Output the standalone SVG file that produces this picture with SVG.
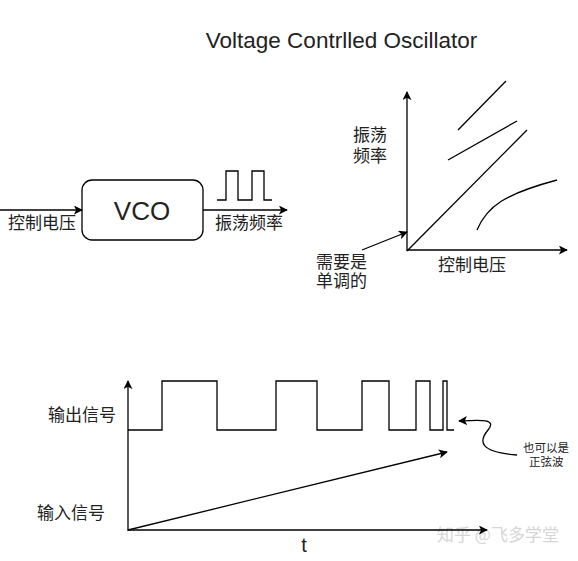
<svg xmlns="http://www.w3.org/2000/svg" width="578" height="561" viewBox="0 0 578 561">
<defs>
<marker id="ah" viewBox="0 0 10 10" refX="9" refY="5" markerWidth="9" markerHeight="9" markerUnits="userSpaceOnUse" orient="auto">
<path d="M0,0 L10,5 L0,10 L2.5,5 Z" fill="#000"/>
</marker>
</defs>
<style>
.ln{stroke:#000;stroke-width:1.3;fill:none}
.t{font-family:"Liberation Sans","Noto Sans CJK SC",sans-serif;fill:#222}
.cn{font-size:17px}
</style>
<rect width="578" height="561" fill="#fff"/>
<text class="t" x="341.5" y="48" font-size="22.5" text-anchor="middle">Voltage Contrlled Oscillator</text>

<g id="vco">
<rect x="82" y="180" width="121" height="60" rx="10" ry="10" fill="#fff" stroke="#000" stroke-width="1.3"/>
<text class="t" x="142" y="219.5" font-size="26" text-anchor="middle">VCO</text>
</g>
<g id="pulse">
<path class="ln" d="M217,200 H226 V171 H238 V200 H252 V171 H264 V200 H272"/>
</g>
<g id="labels-top">
<text class="t cn" x="8" y="229">控制电压</text>
<text class="t cn" x="215" y="229">振荡频率</text>
</g>

<g id="graph">
<path class="ln" d="M407,251 L527,130"/>
<path class="ln" d="M448,160 L517,121"/>
<path class="ln" d="M458,130 L506,81"/>
<path class="ln" d="M477,230 C487,206 505,194 557,180"/>
<text class="t cn" x="353" y="141">振荡</text>
<text class="t cn" x="353" y="162">频率</text>
<text class="t cn" x="438" y="271">控制电压</text>
<text class="t cn" x="316" y="268">需要是</text>
<text class="t cn" x="316" y="287">单调的</text>
</g>

<g id="waveform">
<path class="ln" d="M128,430 H162 V381 H217 V430 H276 V381 H317 V430 H362 V381 H389 V430 H416 V381 H430 V430 H443 V381 H447 V430 H454"/>
<text class="t cn" x="48" y="421">输出信号</text>
<text class="t cn" x="37" y="519">输入信号</text>
<text class="t" x="304" y="552" font-size="20" text-anchor="middle">t</text>
<text class="t" x="523" y="452" font-size="11.5">也可以是</text>
<text class="t" x="529" y="466" font-size="11.5">正弦波</text>
<text x="437" y="541" font-family="'Noto Sans CJK SC',sans-serif" font-size="17" fill="#d6d6d6">知乎 @飞多学堂</text>
</g>

<g id="connectors">
<path class="ln" d="M0,210 H82" marker-end="url(#ah)"/>
<path class="ln" d="M203,210 H287" marker-end="url(#ah)"/>
<path class="ln" d="M407,251 V92" marker-end="url(#ah)"/>
<path class="ln" d="M407,250 H567" marker-end="url(#ah)"/>
<path class="ln" d="M362,250 L407,232" marker-end="url(#ah)"/>
<path class="ln" d="M128,531 V381" marker-end="url(#ah)"/>
<path class="ln" d="M128,530 H487" marker-end="url(#ah)"/>
<path class="ln" d="M128,530 L447,452" marker-end="url(#ah)"/>
<path class="ln" d="M517,455 C480,452 478,442 488,430 C498,418 478,420 459,421" marker-end="url(#ah)"/>
</g>
</svg>
